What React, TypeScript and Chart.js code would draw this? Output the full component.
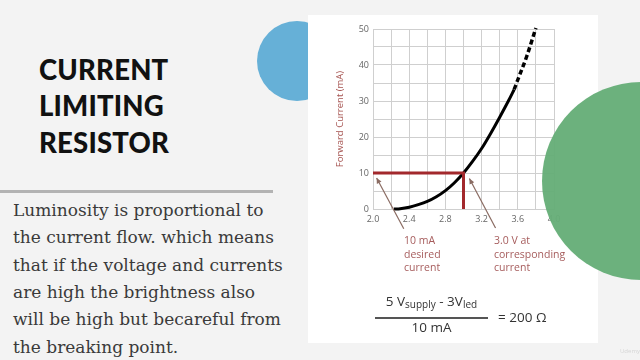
import React, { useEffect, useRef } from "react";
import { Chart, registerables } from "chart.js";

Chart.register(...registerables);

// ---- data ----
const solidCurveX = [2.23, 2.3, 2.4, 2.5, 2.6, 2.7, 2.8, 2.9, 3.0, 3.1, 3.2, 3.3, 3.4, 3.5, 3.56];
const solidCurveY = [0, 0.1, 0.5, 1.2, 2.1, 3.4, 5.1, 7.3, 10, 13.2, 16.8, 21, 25.5, 30.2, 33.2];
const dashedCurveX = [3.56, 3.6, 3.7, 3.8];
const dashedCurveY = [33.2, 35.9, 42.5, 50.3];
const markerX = [2.0, 3.0, 3.0];
const markerY = [10, 10, 0];
const arrowHeadX = [2.04, 3.065];
const arrowHeadY = [8.6, 8.45];
const arrowTailX = [2.34, 3.354];
const arrowTailY = [-5.5, -5.3];
const xRange = [2.0, 4.0];
const yRange = [0, 50];
const xGridStep = 0.2;
const yGridStep = 5;
const xLabelEvery = 2;
const yLabelEvery = 2;
const yAxisTitle = "Forward Current (mA)";

const toPoints = (xs: number[], ys: number[]) => xs.map((x, i) => ({ x, y: ys[i] }));

const arrowPlugin = {
  id: "arrows",
  afterDatasetsDraw(chart: any) {
    const { ctx, scales } = chart;
    const xs = scales.x;
    const ys = scales.y;
    ctx.save();
    ctx.strokeStyle = "#8a6b62";
    ctx.fillStyle = "#8a6b62";
    ctx.lineWidth = 1.2;
    arrowHeadX.forEach((hx, i) => {
      const x1 = xs.getPixelForValue(arrowTailX[i]);
      const y1 = ys.getPixelForValue(arrowTailY[i]);
      const x2 = xs.getPixelForValue(hx);
      const y2 = ys.getPixelForValue(arrowHeadY[i]);
      ctx.beginPath();
      ctx.moveTo(x1, y1);
      ctx.lineTo(x2, y2);
      ctx.stroke();
      const a = Math.atan2(y2 - y1, x2 - x1);
      const L = 6;
      ctx.beginPath();
      ctx.moveTo(x2, y2);
      ctx.lineTo(x2 - L * Math.cos(a - 0.45), y2 - L * Math.sin(a - 0.45));
      ctx.lineTo(x2 - L * Math.cos(a + 0.45), y2 - L * Math.sin(a + 0.45));
      ctx.closePath();
      ctx.fill();
    });
    ctx.restore();
  },
};

const bodyLines = [
  "Luminosity is proportional to",
  "the current flow. which means",
  "that if the voltage and currents",
  "are high the brightness also",
  "will be high but becareful from",
  "the breaking point.",
];
const titleLines = ["CURRENT", "LIMITING", "RESISTOR"];
const leftLabel = ["10 mA", "desired", "current"];
const rightLabel = ["3.0 V at", "corresponding", "current"];

export default function App() {
  const ref = useRef<HTMLCanvasElement>(null);

  useEffect(() => {
    const chart = new Chart(ref.current as HTMLCanvasElement, {
      type: "line",
      data: {
        datasets: [
          {
            data: toPoints(markerX, markerY),
            borderColor: "#a2282c",
            borderWidth: 3,
            pointRadius: 0,
            fill: false,
            tension: 0,
            clip: false as any,
          },
          {
            data: toPoints(solidCurveX, solidCurveY),
            borderColor: "#000000",
            borderWidth: 3,
            pointRadius: 0,
            fill: false,
            cubicInterpolationMode: "monotone",
            clip: false as any,
          },
          {
            data: toPoints(dashedCurveX, dashedCurveY),
            borderColor: "#000000",
            borderWidth: 3.5,
            borderDash: [5, 3],
            pointRadius: 0,
            fill: false,
            cubicInterpolationMode: "monotone",
            clip: false as any,
          },
        ],
      },
      options: {
        animation: false,
        responsive: false,
        devicePixelRatio: 1,
        events: [],
        layout: { padding: { left: 27, top: 14, right: 44, bottom: 114 } },
        plugins: { legend: { display: false }, tooltip: { enabled: false } },
        scales: {
          x: {
            type: "linear",
            min: xRange[0],
            max: xRange[1],
            afterFit: (s: any) => {
              s.height = 20;
            },
            grid: { color: "#cfcfcf", lineWidth: 1, drawTicks: false },
            border: { color: "#cfcfcf" },
            ticks: {
              stepSize: xGridStep,
              padding: 5,
              color: "#666",
              font: { family: "'Open Sans'", size: 9 },
              maxRotation: 0,
              autoSkip: false,
              callback: (v: any, i: number) => (i % xLabelEvery === 0 ? Number(v).toFixed(1) : ""),
            },
          },
          y: {
            type: "linear",
            min: yRange[0],
            max: yRange[1],
            afterFit: (s: any) => {
              s.width = 373 - 308 - 27;
            },
            grid: { color: "#cfcfcf", lineWidth: 1, drawTicks: false },
            border: { color: "#cfcfcf" },
            title: {
              display: true,
              text: yAxisTitle,
              color: "#a5524f",
              padding: { top: 0, bottom: 0 },
              font: { family: "'Open Sans'", size: 9.5 },
            },
            ticks: {
              stepSize: yGridStep,
              padding: 4,
              color: "#666",
              font: { family: "'Open Sans'", size: 9 },
              autoSkip: false,
              callback: (v: any, i: number) => (i % yLabelEvery === 0 ? String(v) : ""),
            },
          },
        },
      },
      plugins: [arrowPlugin],
    });
    return () => chart.destroy();
  }, []);

  const abs = (o: any) => ({ position: "absolute" as const, ...o });

  return (
    <div
      style={{
        position: "fixed",
        left: 0,
        top: 0,
        width: 640,
        height: 360,
        background: "#f3f3f3",
        overflow: "hidden",
      }}
    >
      {/* blue circle behind panel */}
      <div style={abs({ left: 257, top: 21, width: 80, height: 80, borderRadius: "50%", background: "#66b0d7" })} />
      {/* white panel */}
      <div style={abs({ left: 308, top: 15, width: 290, height: 328, background: "#ffffff" })} />
      <canvas ref={ref} width={290} height={328} style={abs({ left: 308, top: 15, width: 290, height: 328 })} />

      {/* annotation labels */}
      {leftLabel.map((t, i) => (
        <div key={"l" + i} style={abs({ left: 404, top: 235 + i * 13.7, fontFamily: "'Open Sans'", fontSize: 10.5, lineHeight: "10.5px", color: "#a65c5c", whiteSpace: "nowrap" })}>
          {t}
        </div>
      ))}
      {rightLabel.map((t, i) => (
        <div key={"r" + i} style={abs({ left: 494, top: 235 + i * 13.7, fontFamily: "'Open Sans'", fontSize: 10.5, lineHeight: "10.5px", color: "#a65c5c", whiteSpace: "nowrap" })}>
          {t}
        </div>
      ))}

      {/* formula */}
      <div style={abs({ left: 375, width: 113, top: 295, textAlign: "center", fontFamily: "'Open Sans'", fontSize: 13.5, lineHeight: "13.5px", color: "#333", whiteSpace: "nowrap" })}>
        5 V<span style={{ fontSize: 10, position: "relative", top: 2 }}>supply</span> - 3V<span style={{ fontSize: 10, position: "relative", top: 2 }}>led</span>
      </div>
      <div style={abs({ left: 375, top: 317, width: 113, height: 1.5, background: "#555" })} />
      <div style={abs({ left: 375, width: 113, top: 321, textAlign: "center", fontFamily: "'Open Sans'", fontSize: 13.5, lineHeight: "13.5px", color: "#333", whiteSpace: "nowrap" })}>
        10 mA
      </div>
      <div style={abs({ left: 498, top: 311, fontFamily: "'Open Sans'", fontSize: 13.5, lineHeight: "13.5px", color: "#333", whiteSpace: "nowrap" })}>
        = 200 Ω
      </div>

      {/* green circle over the panel */}
      <div style={abs({ left: 542, top: 82, width: 198, height: 198, borderRadius: "50%", background: "#66ae78", opacity: 0.96 })} />

      {/* left side text */}
      {titleLines.map((t, i) => (
        <div key={"t" + i} style={abs({ left: 39, top: 56 + i * 36.3, fontFamily: "Lato", fontWeight: 900, fontSize: 27.5, lineHeight: "27.5px", color: "#111", whiteSpace: "nowrap", letterSpacing: 0.2 })}>
          {t}
        </div>
      ))}
      <div style={abs({ left: 0, top: 189.5, width: 273, height: 3, background: "#b3b3b3" })} />
      {bodyLines.map((t, i) => (
        <div key={"b" + i} style={abs({ left: 13, top: 202 + i * 27.3, fontFamily: "'DejaVu Serif'", fontSize: 17, lineHeight: "17px", color: "#3a3a3a", whiteSpace: "nowrap" })}>
          {t}
        </div>
      ))}
      <div style={abs({ left: 620, top: 347, fontFamily: "'Open Sans'", fontSize: 6, color: "#d6d6d6" })}>Udemy</div>
    </div>
  );
}
